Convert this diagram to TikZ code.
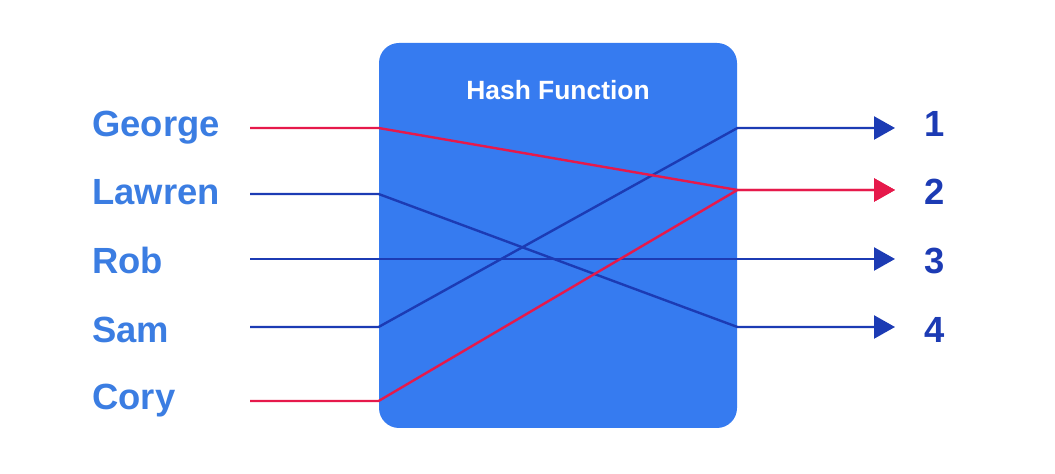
\documentclass[tikz,border=0pt]{standalone}
\usepackage{fontspec}
\setmainfont{Liberation Sans}
\usepackage{tikz}
\usetikzlibrary{arrows.meta,positioning}
\definecolor{boxblue}{HTML}{367BF0}
\definecolor{namefg}{HTML}{3B7DE2}
\definecolor{navy}{HTML}{1C3BB4}
\definecolor{hotred}{HTML}{E6194B}
\tikzset{
  >={Triangle[length=10.5pt,width=11.5pt]},
  hashbox/.style={fill=boxblue,rounded corners=10pt,minimum width=179pt,minimum height=192.5pt,inner sep=0pt},
  fnlabel/.style={font=\fontsize{13.2}{15}\selectfont\bfseries,text=white,inner sep=0pt},
  person/.style={font=\fontsize{18.2}{21}\selectfont\bfseries,text=namefg,anchor=base west,inner sep=0pt},
  slot/.style={font=\fontsize{18.2}{21}\selectfont\bfseries,text=navy,anchor=base,inner sep=0pt},
  link/.style={->,line width=1.2pt,draw=navy},
  hit/.style={link,draw=hotred}
}

\begin{document}
\begin{tikzpicture}[x=0.5pt,y=-0.5pt]
  \useasboundingbox (0,0) rectangle (1055,474);

  \node[hashbox] (hash) at (558,235.5) {};
  \node[fnlabel,below=18.5pt of hash.north] (title) {Hash Function};

  % keys
  \node[person] (george) at (92,137) {George};
  \node[person] (lawren) at (92,205) {Lawren};
  \node[person] (rob) at (92,274) {Rob};
  \node[person] (sam) at (92,343) {Sam};
  \node[person] (cory) at (92,410) {Cory};

  \coordinate (sGeorge) at (250,128);
  \coordinate (sLawren) at (250,194);
  \coordinate (sRob) at (250,259);
  \coordinate (sSam) at (250,327);
  \coordinate (sCory) at (250,401);

  % buckets
  \node[slot] (b1) at (935,137) {1};
  \node[slot] (b2) at (935,205) {2};
  \node[slot] (b3) at (935,274) {3};
  \node[slot] (b4) at (935,343) {4};

  \coordinate (t1) at (895,128);
  \coordinate (t2) at (895,190);
  \coordinate (t3) at (895,259);
  \coordinate (t4) at (895,327);

  \draw[link] (sLawren) -- (hash.west |- sLawren) -- (hash.east |- t4) -- (t4);
  \draw[link] (sRob) -- (t3);
  \draw[link] (sSam) -- (hash.west |- sSam) -- (hash.east |- t1) -- (t1);
  \draw[hit] (sGeorge) -- (hash.west |- sGeorge) -- (hash.east |- t2) -- (t2);
  \draw[hit] (sCory) -- (hash.west |- sCory) -- (hash.east |- t2) -- (t2);
\end{tikzpicture}
\end{document}
